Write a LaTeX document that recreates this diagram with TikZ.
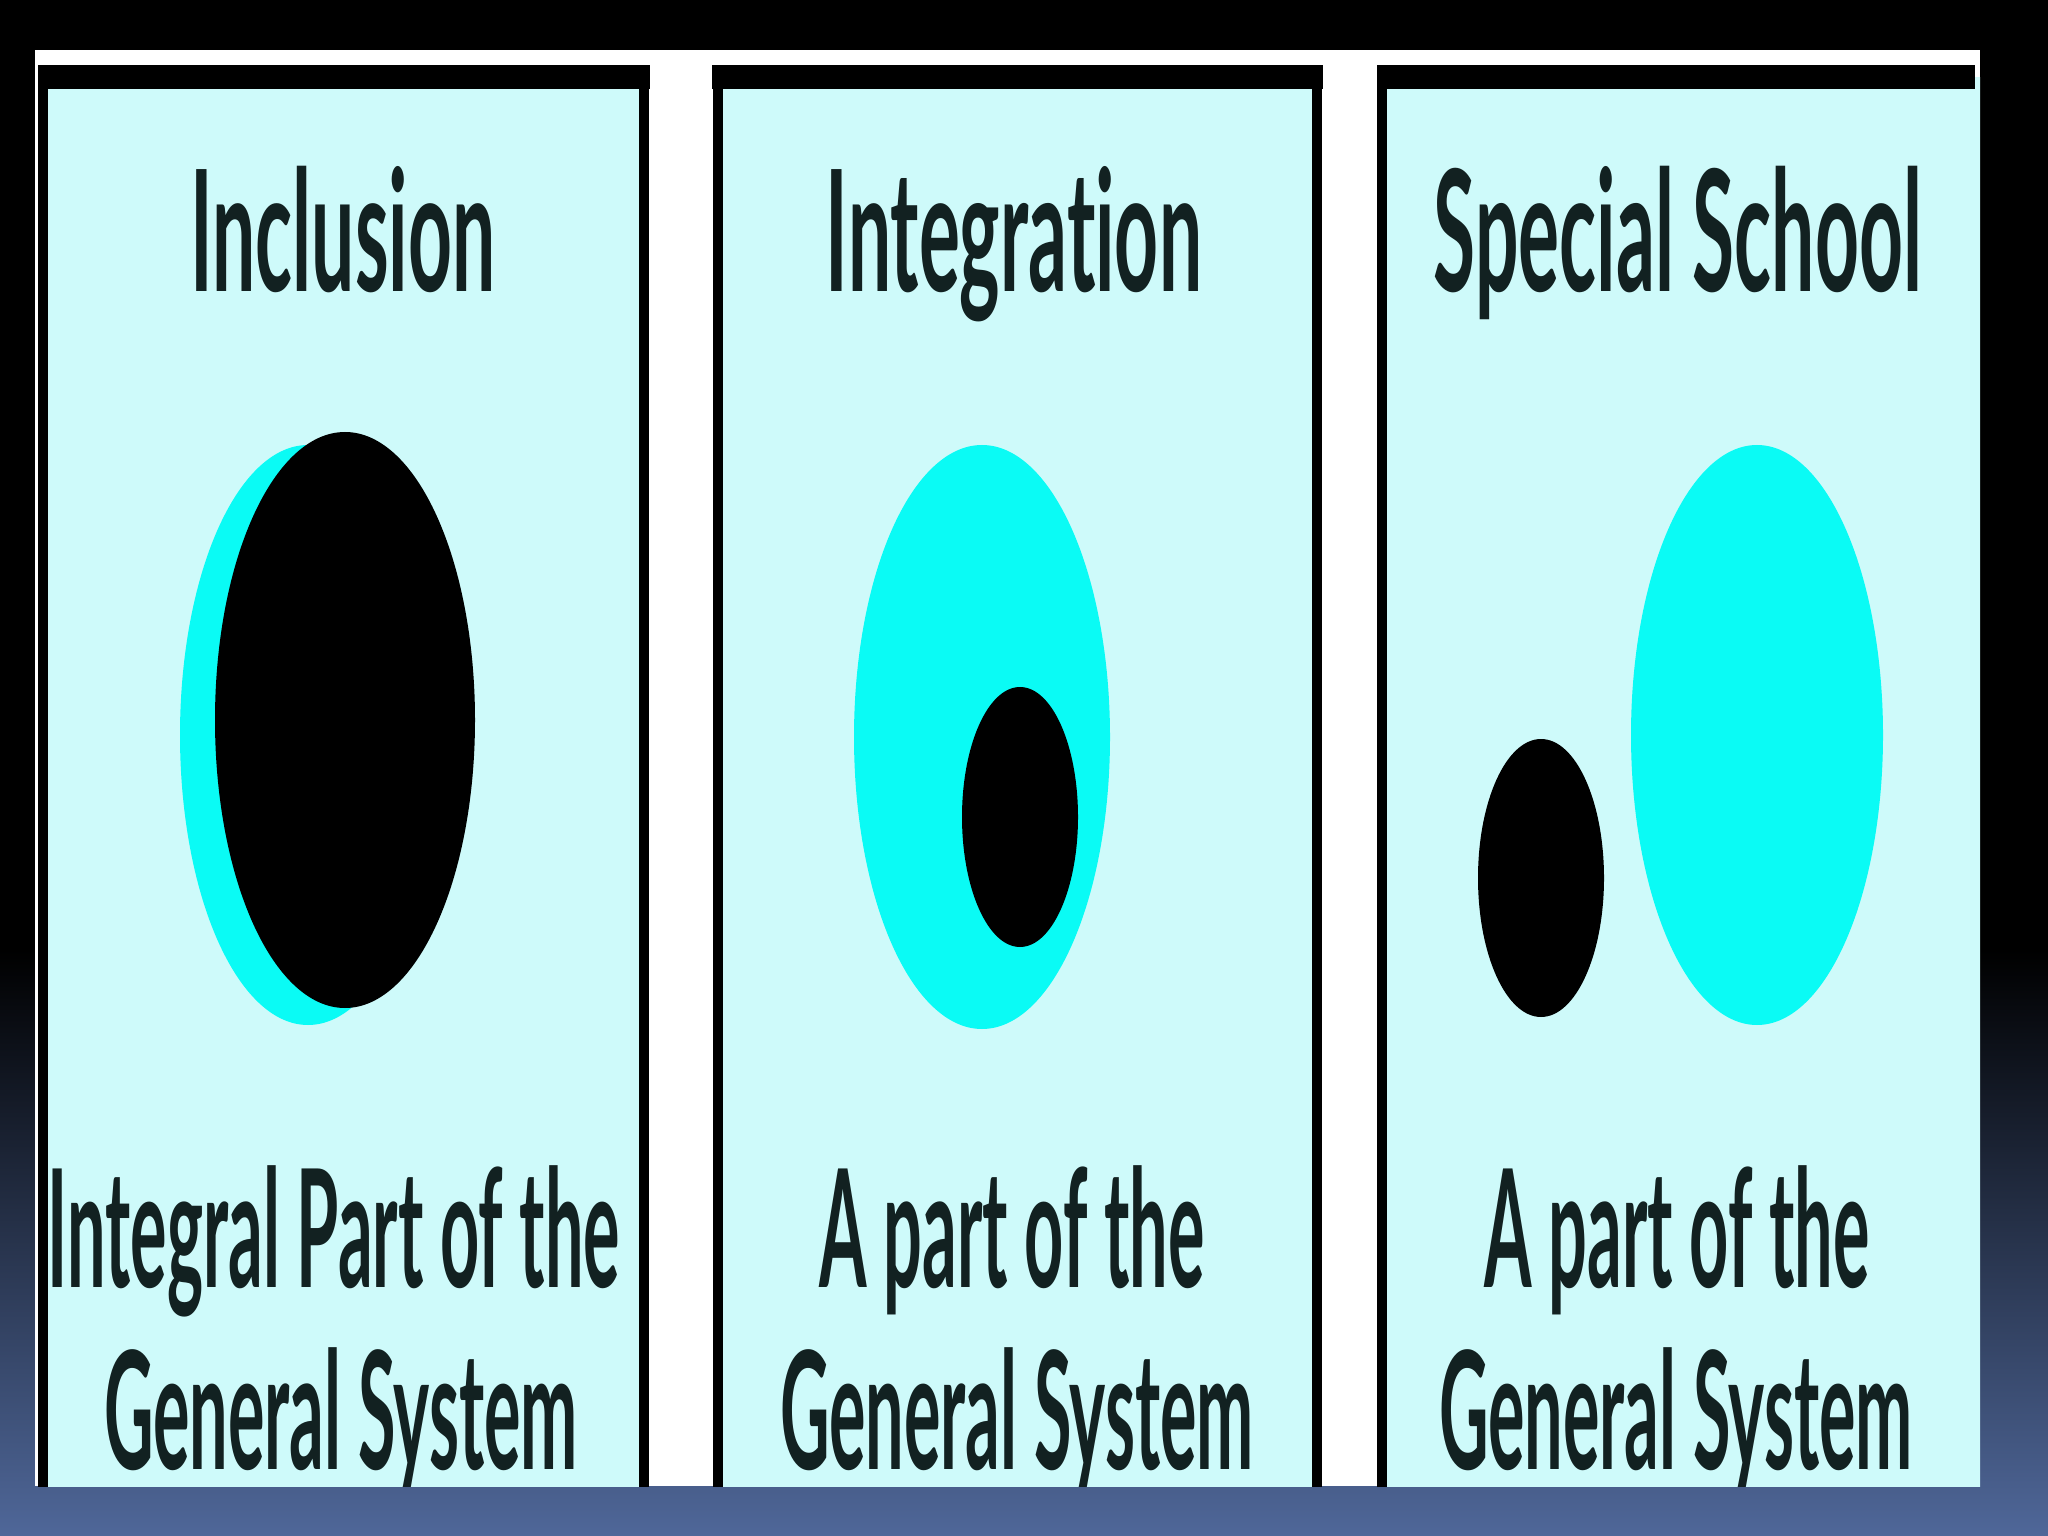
\documentclass[tikz,border=0pt]{standalone}
\usepackage{fontspec}
\setmainfont{Lato}[Ligatures={TeX,NoCommon}]
\newlength{\du}
\setlength{\du}{0.3pt}
\definecolor{slidecolor}{rgb}{0.310000, 0.404000, 0.600000}
\definecolor{boxcolor}{rgb}{0.807843, 0.980392, 0.980392}
\definecolor{blobcolor}{rgb}{0.039216, 0.984314, 0.960784}
\definecolor{textcolor}{rgb}{0.070588, 0.129412, 0.129412}
\tikzset{
  boxfill/.style={fill=boxcolor},
  boxline/.style={draw=black, line width=10\du},
  topbar/.style={fill=black},
  cyanblob/.style={fill=blobcolor},
  blackblob/.style={fill=black},
  headtext/.style={anchor=base, inner sep=0pt, outer sep=0pt, color=textcolor,
    font=\fontsize{23}{28}\selectfont\bfseries},
  bodytext/.style={anchor=base, inner sep=0pt, outer sep=0pt, color=textcolor,
    font=\fontsize{20.5}{25}\selectfont\bfseries},
}
\newcommand{\tallhead}[1]{\scalebox{1}[2.2]{#1}}
\newcommand{\tallbody}[1]{\scalebox{1}[2.4]{#1}}

\begin{document}
\begin{tikzpicture}
\pgftransformxscale{1.000000}
\pgftransformyscale{-1.000000}
\useasboundingbox (0.000000\du,0.000000\du) rectangle (2048.000000\du,1536.000000\du);
\definecolor{dialinecolor}{rgb}{0.000000, 0.000000, 0.000000}
\fill[dialinecolor] (0.000000\du,0.000000\du) rectangle (2048.000000\du,1536.000000\du);
\shade[top color=dialinecolor, bottom color=slidecolor] (0.000000\du,950.000000\du) rectangle (2048.000000\du,1536.000000\du);
% the white card
\fill[white] (35.000000\du,50.000000\du) rectangle (1980.000000\du,1486.000000\du);
\begin{scope}
\clip (35.000000\du,50.000000\du) rectangle (1980.000000\du,1486.000000\du);
% Inclusion
\fill[boxfill] (43.000000\du,77.000000\du) rectangle (644.000000\du,1500.000000\du);
\draw[boxline] (43.000000\du,1500.000000\du)--(43.000000\du,77.000000\du)--(644.000000\du,77.000000\du)--(644.000000\du,1500.000000\du);
\fill[topbar] (38.000000\du,65.000000\du) rectangle (650.000000\du,89.000000\du);
\fill[cyanblob] (308.000000\du,735.000000\du) ellipse [x radius=128\du, y radius=290\du];
\fill[blackblob] (345.000000\du,720.000000\du) ellipse [x radius=130\du, y radius=288\du];
\node[headtext] (inclusion) at (343.000000\du,292.000000\du){\tallhead{Inclusion}};
\node[bodytext] (inclusion-a) at (334.000000\du,1287.000000\du){\tallbody{Integral Part of the}};
\node[bodytext] (inclusion-b) at (341.000000\du,1469.000000\du){\tallbody{General System}};
% Integration
\fill[boxfill] (718.000000\du,77.000000\du) rectangle (1317.000000\du,1500.000000\du);
\draw[boxline] (718.000000\du,1500.000000\du)--(718.000000\du,77.000000\du)--(1317.000000\du,77.000000\du)--(1317.000000\du,1500.000000\du);
\fill[topbar] (712.000000\du,65.000000\du) rectangle (1323.000000\du,89.000000\du);
\fill[cyanblob] (982.000000\du,737.000000\du) ellipse [x radius=128\du, y radius=292\du];
\fill[blackblob] (1020.000000\du,817.000000\du) ellipse [x radius=58\du, y radius=130\du];
\node[headtext] (integration) at (1014.000000\du,292.000000\du){\tallhead{Integration}};
\node[bodytext] (integration-a) at (1012.000000\du,1287.000000\du){\tallbody{A part of the}};
\node[bodytext] (integration-b) at (1017.000000\du,1469.000000\du){\tallbody{General System}};
% Special School
\fill[boxfill] (1382.000000\du,77.000000\du) rectangle (1995.000000\du,1500.000000\du);
\draw[boxline] (1382.000000\du,1500.000000\du)--(1382.000000\du,77.000000\du)--(1975.000000\du,77.000000\du);
\fill[topbar] (1377.000000\du,65.000000\du) rectangle (1975.000000\du,89.000000\du);
\fill[blackblob] (1541.000000\du,878.000000\du) ellipse [x radius=63\du, y radius=139\du];
\fill[cyanblob] (1757.000000\du,735.000000\du) ellipse [x radius=126\du, y radius=290\du];
\node[headtext] (special) at (1678.000000\du,292.000000\du){\tallhead{Special School}};
\node[bodytext] (special-a) at (1677.000000\du,1287.000000\du){\tallbody{A part of the}};
\node[bodytext] (special-b) at (1676.000000\du,1469.000000\du){\tallbody{General System}};
\end{scope}
\end{tikzpicture}
\end{document}
